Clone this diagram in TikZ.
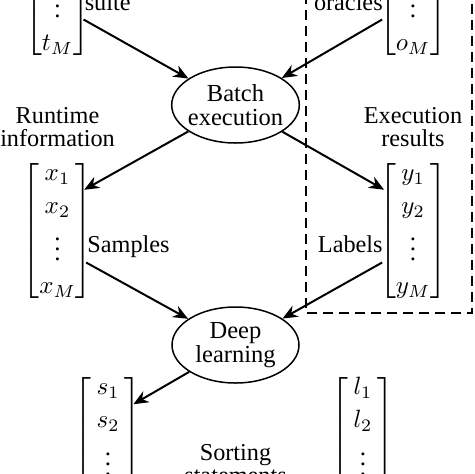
\documentclass[tikz,border=0pt]{standalone}
\usepackage{amsmath}
\usepackage[no-math]{fontspec}
\setmainfont{Liberation Serif}
\usetikzlibrary{arrows.meta, positioning, shapes.geometric}

\tikzset{
  proc/.style={ellipse, draw, line width=0.6pt, minimum width=50.8pt, minimum height=30.4pt,
    inner xsep=-1pt, inner ysep=1pt, align=center, font=\fontsize{9.8}{9.6}\selectfont, on grid},
  vec/.style={inner sep=0pt, outer sep=0pt, font=\fontsize{10}{13.2}\selectfont, on grid},
  lbl/.style={inner sep=0pt, align=center, font=\fontsize{9.7}{9.2}\selectfont},
  flow/.style={-{Stealth[length=6pt,width=5pt]}, line width=0.8pt},
  frame/.style={draw, line width=0.8pt, dash pattern=on 4pt off 2.4pt},
}

\begin{document}
\begin{tikzpicture}[x=0.4pt, y=-0.4pt]
   \path[use as bounding box, clip] (0,0) rectangle (474,474);

   \node[proc] (batch) at (235.5,105) {Batch\\execution};
   \node[proc] (deep) [below=96pt of batch] {Deep\\learning};

   \node[vec] (xvec) [below left=50.2pt and 71.2pt of batch]
      {$\begin{bmatrix} x_1\\ x_2\\ \vdots\\ x_M \end{bmatrix}$};
   \node[vec] (yvec) [below right=50.2pt and 71pt of batch]
      {$\begin{bmatrix} y_1\\ y_2\\ \vdots\\ y_M \end{bmatrix}$};
   \node[vec] (tvec) [above=97.2pt of xvec]
      {$\begin{bmatrix} t_1\\ t_2\\ \vdots\\ t_M \end{bmatrix}$};
   \node[vec] (ovec) [above=97.2pt of yvec]
      {$\begin{bmatrix} o_1\\ o_2\\ \vdots\\ o_M \end{bmatrix}$};
   \node[vec] (svec) [below left=40pt and 51pt of deep]
      {$\begin{bmatrix} s_1\\ s_2\\ \vdots\\ s_M \end{bmatrix}$};
   \node[vec] (lvec) [below right=40pt and 51pt of deep]
      {$\begin{bmatrix} l_1\\ l_2\\ \vdots\\ l_M \end{bmatrix}$};

   % labels
   \node[lbl, anchor=base west] (suitelbl) at ([xshift=-2.2pt, yshift=20pt]tvec.south east) {suite};
   \node[lbl, anchor=base east] (oraclelbl) at ([xshift=1.6pt, yshift=20pt]ovec.south west) {oracles};
   \node[lbl, above=4pt of xvec] (runlbl) {Runtime\\information};
   \node[lbl, above=4pt of yvec] (reslbl) {Execution\\results};
   \node[lbl, anchor=base west] (samplbl) at ([xshift=-2.2pt, yshift=20.4pt]xvec.south east) {Samples};
   \node[lbl, anchor=base east] (labellbl) at ([xshift=1.6pt, yshift=20.4pt]yvec.south west) {Labels};
   \node[lbl, on grid, below=47.6pt of deep] (sortlbl) {Sorting\\statements};

   \draw[frame] (306,-150) rectangle (472,313);

   \draw[flow] ([xshift=-2.5pt, yshift=16.5pt]tvec.south east) -- (batch);
   \draw[flow] ([xshift=1.2pt, yshift=16.5pt]ovec.south west) -- (batch);
   \draw[flow] (batch) -- ([xshift=-3.3pt, yshift=-13pt]xvec.north east);
   \draw[flow] (batch) -- ([xshift=2pt, yshift=-13pt]yvec.north west);
   \draw[flow] ([xshift=-2.5pt, yshift=16.5pt]xvec.south east) -- (deep);
   \draw[flow] ([xshift=1.2pt, yshift=16.5pt]yvec.south west) -- (deep);
   \draw[flow] (deep) -- ([xshift=-3.3pt, yshift=-13pt]svec.north east);
\end{tikzpicture}
\end{document}
